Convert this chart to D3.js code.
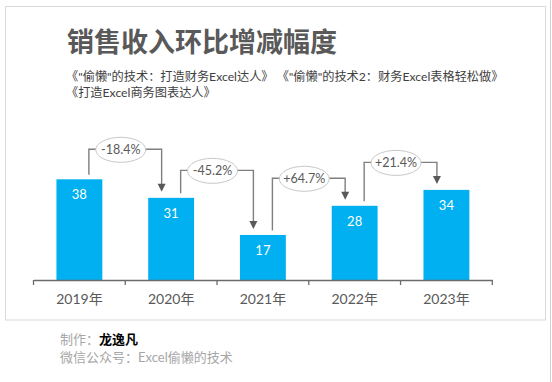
<!DOCTYPE html>
<html><head><meta charset="utf-8">
<script src="https://cdn.jsdelivr.net/npm/d3@7"></script>
<style>
html,body{margin:0;padding:0;background:#fff;}
svg{display:block;font-family:Lato,"Noto Sans CJK SC",sans-serif;}
</style></head>
<body>
<svg id="c" width="552" height="382"></svg>
<script>
const categories = ["2019年","2020年","2021年","2022年","2023年"];
const values = [38, 31, 17, 28, 34];
const titleText = "销售收入环比增减幅度";
const subtitleLines = ["《\"偷懒\"的技术：打造财务Excel达人》 《\"偷懒\"的技术2：财务Excel表格轻松做》","《打造Excel商务图表达人》"];
const footerLabel = "制作：";
const footerName = "龙逸凡";
const footerLine2 = "微信公众号：Excel偷懒的技术";

const svg = d3.select("#c");
// outer frame
svg.append("rect").attr("x",5.5).attr("y",6.5).attr("width",540).attr("height",313.5)
  .attr("fill","#fff").attr("stroke","#d9d9d9").attr("stroke-width",1);
svg.append("line").attr("x1",550.5).attr("x2",550.5).attr("y1",0).attr("y2",382).attr("stroke","#d0d0d0");

// title
svg.append("text").attr("x",67).attr("y",40).attr("dominant-baseline","central")
  .attr("font-family","'Noto Sans CJK SC',sans-serif")
  .attr("font-size",27).attr("font-weight",700).attr("fill","#595959").text(titleText);
subtitleLines.forEach((t,i)=>{
  svg.append("text").attr("x",66).attr("y",76+i*16).attr("dominant-baseline","central")
    .attr("font-size",12.2).attr("fill","#404040").text(t);
});

const x = d3.scaleBand().domain(categories).range([33.5,492.3]).paddingInner(0.5).paddingOuter(0.25);
const y = d3.scaleLinear().domain([0,40]).range([280,174]);

// bars
svg.append("g").selectAll("rect").data(values).join("rect")
  .attr("x",(d,i)=>x(categories[i])).attr("width",x.bandwidth())
  .attr("y",d=>y(d)).attr("height",d=>y(0)-y(d)).attr("fill","#00b0f0");
svg.append("g").selectAll("text").data(values).join("text")
  .attr("x",(d,i)=>x(categories[i])+x.bandwidth()/2).attr("y",d=>y(d)+15)
  .attr("text-anchor","middle").attr("dominant-baseline","central")
  .attr("font-size",13).attr("fill","#fff").text(d=>d);

// axis
const axis = d3.axisBottom(x).tickSize(0).tickSizeOuter(0);
const ag = svg.append("g").attr("transform","translate(0,280)").call(axis);
ag.select(".domain").attr("stroke","#6b6b6b").attr("stroke-width",1.3);
ag.selectAll("text").attr("font-size",14).attr("fill","#595959").attr("dy",null).attr("y",18).attr("dominant-baseline","central")
  .attr("font-family","Lato,'Noto Sans CJK SC',sans-serif");
// tick marks at band boundaries
const bounds = categories.map(c=>x(c)-x.bandwidth()/2).concat([x(categories[categories.length-1])+x.bandwidth()*1.5]);
ag.selectAll("line.bt").data(bounds).join("line").attr("class","bt")
  .attr("x1",d=>d).attr("x2",d=>d).attr("y1",0).attr("y2",5).attr("stroke","#6b6b6b").attr("stroke-width",1.3);

// connectors
const cg = svg.append("g");
const lineColor = "#7f7f7f";
for(let i=0;i<values.length-1;i++){
  const c1 = x(categories[i])+x.bandwidth()/2, c2 = x(categories[i+1])+x.bandwidth()/2;
  const t1 = y(values[i]), t2 = y(values[i+1]);
  const xa = c1+9.5, xb = c2-9.5;
  const hy = Math.min(t1,t2) - (i===0?30:27.5);
  const tip = t2 - 6;
  cg.append("path").attr("d",`M${xa},${t1-4.5}V${hy}H${xb}V${tip-7}`)
    .attr("fill","none").attr("stroke",lineColor).attr("stroke-width",1.4);
  cg.append("path").attr("d",`M${xb-4},${tip-8}L${xb+4},${tip-8}L${xb},${tip}Z`).attr("fill","#595959");
  const ex = (c1+c2)/2 - 4.5;
  cg.append("ellipse").attr("cx",ex).attr("cy",hy+0.5).attr("rx",25).attr("ry",12.5)
    .attr("fill","#fff").attr("stroke","#c8c8c8").attr("stroke-width",1);
  const p = (values[i+1]-values[i])/values[i]*100;
  cg.append("text").attr("x",ex).attr("y",hy+0.5).attr("text-anchor","middle").attr("dominant-baseline","central")
    .attr("font-size",12.5).attr("fill","#595959").text((p>0?"+":"")+p.toFixed(1)+"%");
}

// footer
const f1 = svg.append("text").attr("x",60).attr("y",339).attr("dominant-baseline","central").attr("font-size",13);
f1.append("tspan").attr("fill","#a6a6a6").text(footerLabel);
f1.append("tspan").attr("fill","#000").attr("font-weight",700).text(footerName);
svg.append("text").attr("x",60).attr("y",356.5).attr("dominant-baseline","central").attr("font-size",13)
  .attr("fill","#a6a6a6").text(footerLine2);
</script>
</body></html>
